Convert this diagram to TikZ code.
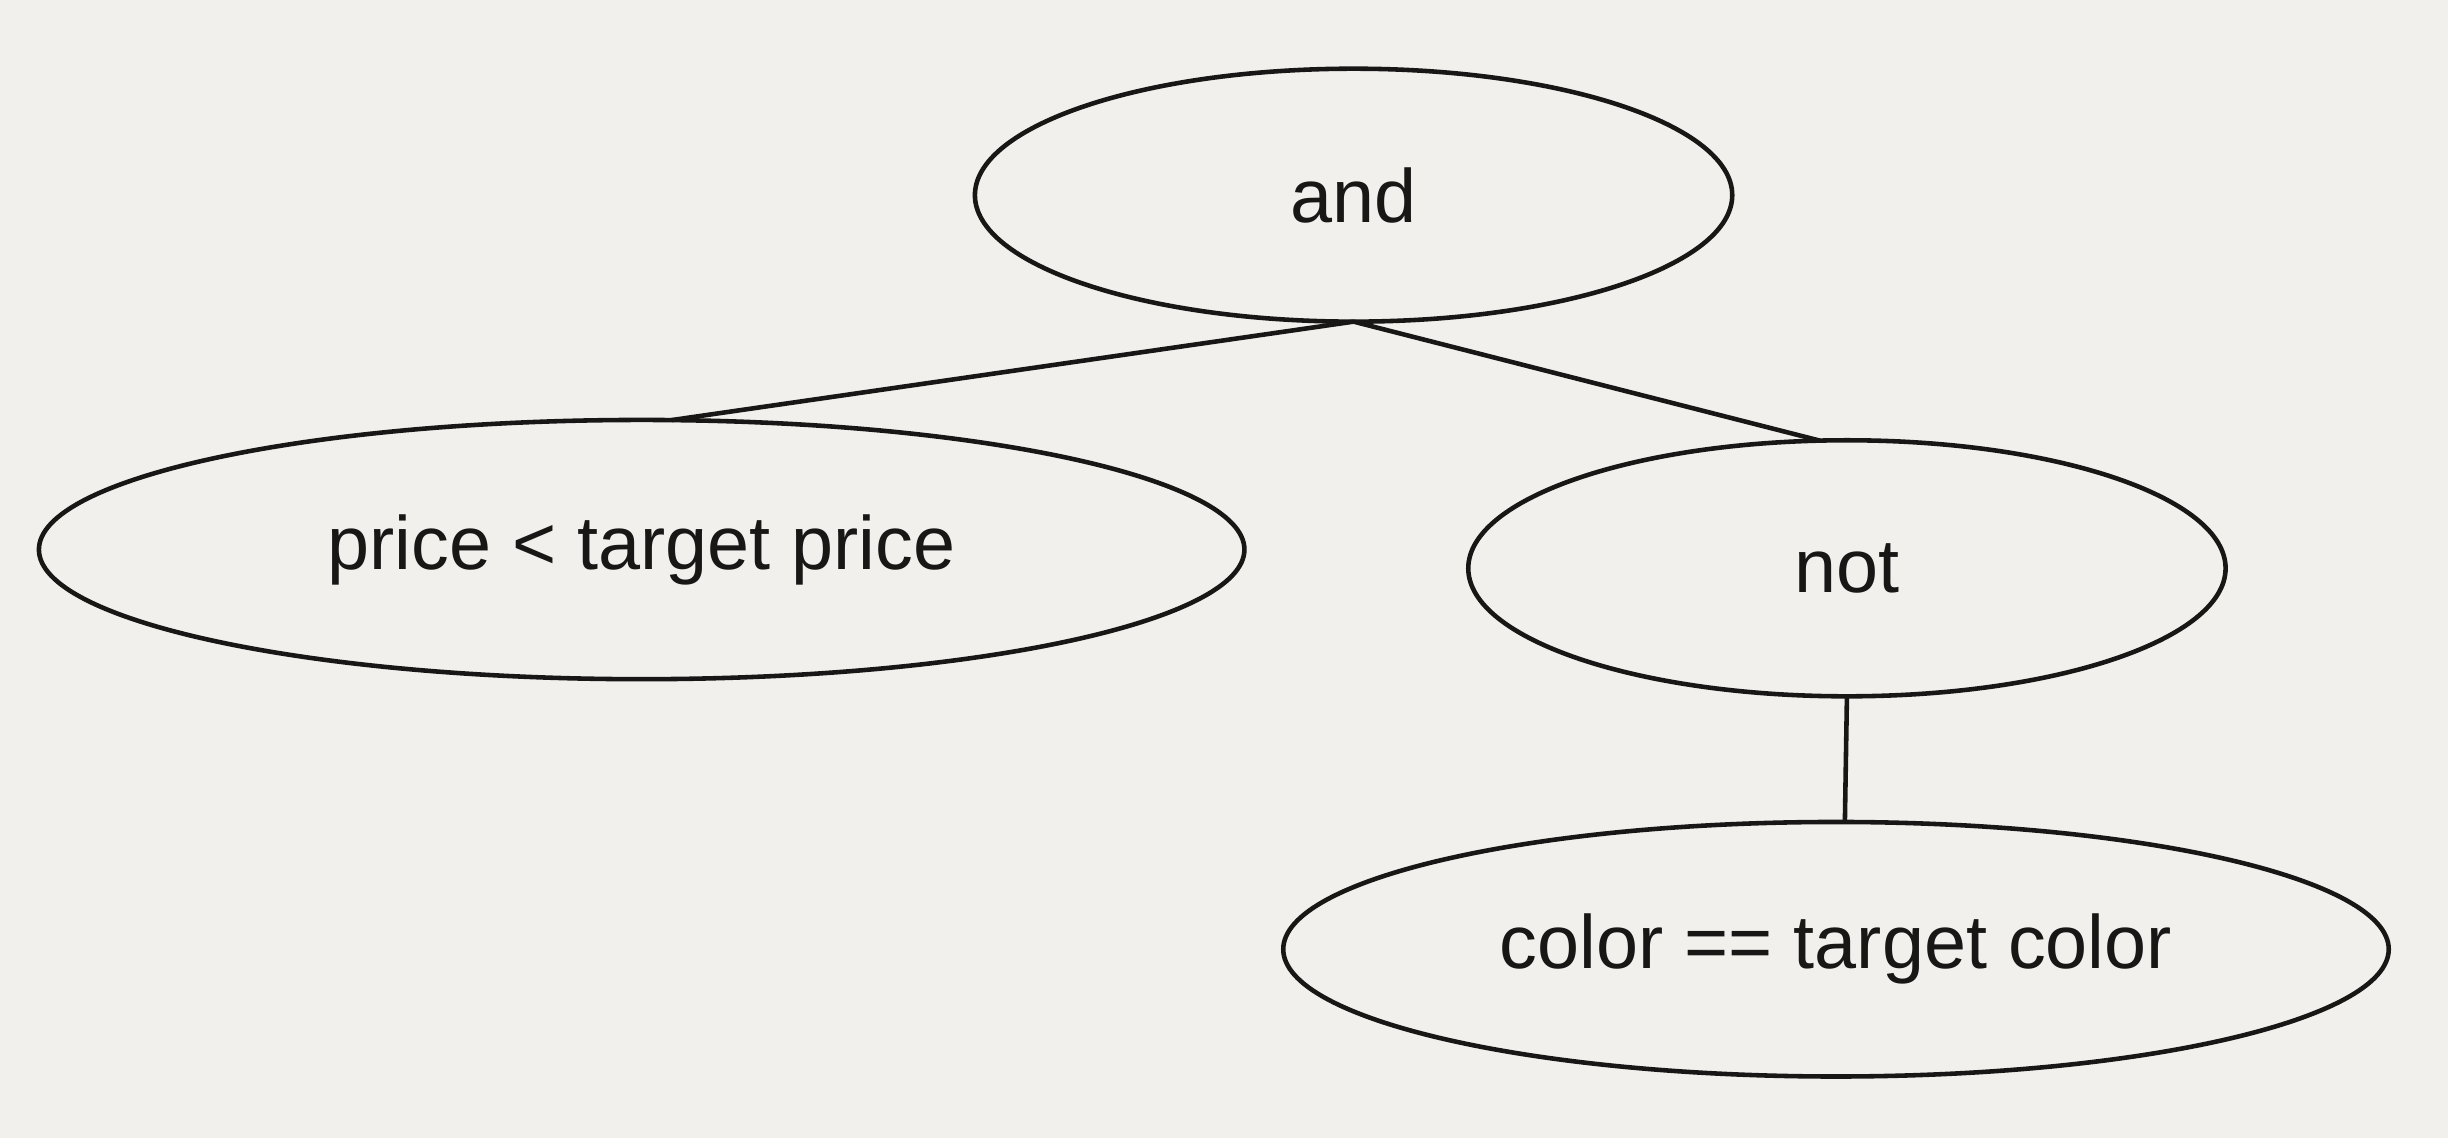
\documentclass[tikz,border=0pt]{standalone}
\usepackage{fontspec}
\setmainfont{Liberation Sans}
\usetikzlibrary{shapes.geometric}
\definecolor{paper}{RGB}{242,240,237}
\definecolor{ink}{RGB}{25,22,22}
\begin{document}
\begin{tikzpicture}[x=0.015612cm, y=-0.015612cm,
  treenode/.style={ellipse, draw=ink, line width=1.3pt, inner sep=0pt, outer sep=0pt,
    font=\fontsize{21.5}{26}\selectfont, text=ink},
  edge/.style={draw=ink, line width=1.3pt}]
\fill[paper] (0,0) rectangle (1568,729);
\useasboundingbox (0,0) rectangle (1568,729);
\node[treenode, minimum width=7.572cm, minimum height=2.529cm] (and) at (867,125) {and};
\node[treenode, minimum width=12.053cm, minimum height=2.592cm] (price) at (411,352) {price < target price};
\node[treenode, minimum width=7.572cm, minimum height=2.560cm] (not) at (1183,364) {not};
\node[treenode, minimum width=11.053cm, minimum height=2.545cm] (color) at (1176,608) {color == target color};
\draw[edge] (and.south) -- (price.77);
\draw[edge] (and.south) -- (not.102);
\draw[edge] (not.south) -- (color.86);
\end{tikzpicture}
\end{document}
